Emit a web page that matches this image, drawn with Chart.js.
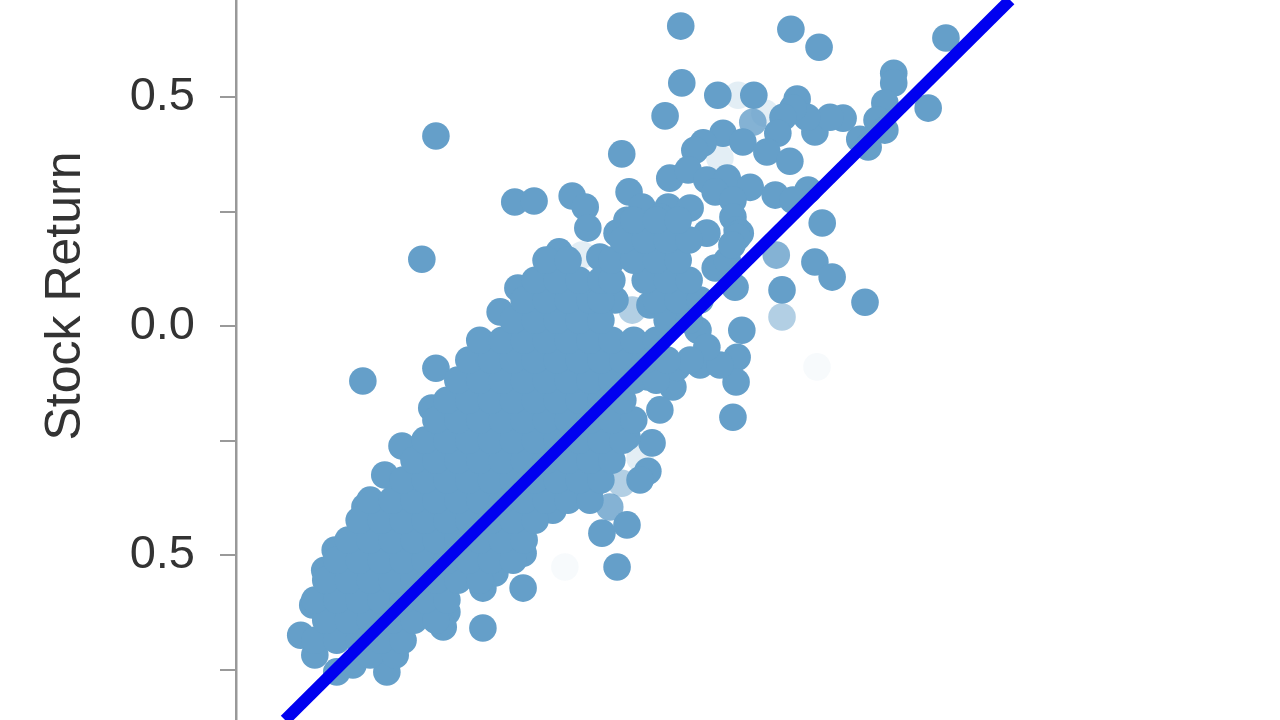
<!DOCTYPE html>
<html>
<head>
<meta charset="utf-8">
<title>Stock Return</title>
<script src="https://cdn.jsdelivr.net/npm/chart.js@4"></script>
<style>
  html, body { margin: 0; padding: 0; background: #fff; }
  canvas { display: block; }
</style>
</head>
<body>
<canvas id="returnsChart" width="1280" height="720"></canvas>
<script>
// Axis values
const yTickValues = [-0.75, -0.5, -0.25, 0, 0.25, 0.5];
const yTickLabels = ['', '0.5', '', '0.0', '', '0.5'];

// Dense part of the cloud, one stock return per row of market returns
const denseStock = [-0.686, -0.642, -0.598, -0.555, -0.511, -0.467, -0.424, -0.380, -0.336, -0.293, -0.249,
    -0.205, -0.162, -0.118, -0.074, -0.031, 0.013, 0.057, 0.100, 0.144, 0.188, 0.231];
const denseMarket = [
    [-0.649, -0.607, -0.564, -0.522, -0.480],
    [-0.628, -0.585, -0.543, -0.501, -0.459, -0.417],
    [-0.649, -0.607, -0.564, -0.522, -0.480, -0.438, -0.396],
    [-0.628, -0.585, -0.543, -0.501, -0.459, -0.417, -0.375, -0.333],
    [-0.607, -0.564, -0.522, -0.480, -0.438, -0.396, -0.354, -0.311, -0.269],
    [-0.585, -0.543, -0.501, -0.459, -0.417, -0.375, -0.333, -0.290, -0.248],
    [-0.564, -0.522, -0.480, -0.438, -0.396, -0.354, -0.311, -0.269, -0.227],
    [-0.543, -0.501, -0.459, -0.417, -0.375, -0.333, -0.290, -0.248, -0.206, -0.164, -0.122],
    [-0.480, -0.438, -0.396, -0.354, -0.311, -0.269, -0.227, -0.185, -0.143, -0.101],
    [-0.459, -0.417, -0.375, -0.333, -0.290, -0.248, -0.206, -0.164, -0.122, -0.080],
    [-0.438, -0.396, -0.354, -0.311, -0.269, -0.227, -0.185, -0.143, -0.101, -0.059],
    [-0.417, -0.375, -0.333, -0.290, -0.248, -0.206, -0.164, -0.122, -0.080, -0.038],
    [-0.396, -0.354, -0.311, -0.269, -0.227, -0.185, -0.143, -0.101, -0.059],
    [-0.375, -0.333, -0.290, -0.248, -0.206, -0.164, -0.122, -0.080, -0.038, 0.005],
    [-0.354, -0.311, -0.269, -0.227, -0.185, -0.143, -0.101, -0.059, -0.016, 0.026],
    [-0.333, -0.290, -0.248, -0.206, -0.164, -0.122, -0.080, -0.038, 0.005],
    [-0.269, -0.227, -0.185, -0.143, -0.101, 0.026, 0.068],
    [-0.248, -0.206, -0.164, -0.122, -0.101, 0.005, 0.047, 0.089],
    [-0.227, -0.185, -0.143, -0.101, -0.080, -0.016, 0.026, 0.068],
    [-0.206, -0.164, -0.080, -0.038, 0.005, 0.047],
    [-0.059, -0.016, 0.026, 0.068],
    [-0.038, 0.005, 0.047]
];

// Edge of the cloud and the points standing on their own
const edgeMarket = [0.052, 0.263, 0.317, 0.560, 0.460, 0.460, 0.526, 0.054, 0.123, 0.192, 0.275, 0.022, -0.061,
    0.443, 0.428, 0.443, 0.395, 0.411, 0.309, 0.363, 0.338, 0.294, 0.267, 0.248, 0.238, 0.133, 0.095, 0.079,
    0.171, 0.217, 0.261, 0.031, 0.066, 0.102, 0.141, 0.118, 0.185, 0.233, 0.152, 0.296, 0.267, 0.323, 0.152, 0.160,
    -0.156, -0.131, -0.126, -0.047, -0.022, 0.028, 0.070, 0.012, -0.051, -0.070, -0.013, 0.045, 0.102, 0.166,
    -0.266, -0.229, -0.444, 0.309, 0.342, 0.246, 0.156, 0.118, 0.169, 0.085, 0.160, 0.158, 0.152, 0.089, 0.127,
    0.037, -0.011, -0.417, -0.260, -0.294, -0.181, -0.204, -0.321, -0.103, -0.040, -0.001, 0.160, 0.141, 0.056,
    -0.417, -0.557, 0.405, 0.150, 0.012, -0.003, -0.051, -0.108, -0.011, -0.026,
    -0.099, -0.051, -0.070, -0.122, -0.193, -0.250, -0.250, -0.304, -0.327, -0.327, -0.396, -0.403,
    -0.511, -0.576, -0.607, -0.649, -0.676, -0.653, -0.630, -0.610, -0.553, -0.515, -0.482, -0.425, -0.361,
    -0.074, -0.007, 0.045, 0.102, 0.070, -0.543, -0.495];
const edgeStock = [0.655, 0.648, 0.609, 0.629, 0.552, 0.531, 0.476, 0.531, 0.504, 0.504, 0.496, 0.459, 0.376,
    0.487, 0.450, 0.428, 0.408, 0.391, 0.424, 0.454, 0.456, 0.456, 0.476, 0.456, 0.421, 0.421, 0.400, 0.384,
    0.402, 0.380, 0.360, 0.323, 0.341, 0.319, 0.323, 0.293, 0.303, 0.286, 0.275, 0.297, 0.275, 0.225, 0.238, 0.210,
    0.284, 0.260, 0.214, 0.293, 0.260, 0.260, 0.258, 0.238, 0.231, 0.203, 0.216, 0.225, 0.203, 0.203,
    0.271, 0.273, 0.146, 0.140, 0.107, 0.079, 0.085, 0.127, -0.009, -0.009, -0.068, -0.122, -0.199, -0.085, -0.085,
    -0.133, -0.111, -0.092, 0.083, 0.031, 0.162, 0.122, -0.041, 0.151, 0.159, 0.225, 0.194, 0.144, 0.188,
    0.415, -0.120, 0.052, 0.177, -0.183, -0.255, -0.242, -0.277, -0.317, -0.336,
    -0.452, -0.434, -0.526, -0.358, -0.402, -0.496, -0.572, -0.539, -0.572, -0.659, -0.624, -0.657,
    -0.755, -0.740, -0.755, -0.718, -0.675, -0.609, -0.533, -0.489, -0.395, -0.325, -0.262, -0.179, -0.124,
    0.057, 0.046, -0.090, -0.046, -0.074, -0.718, -0.718];

// Points that show up lighter in the picture
const lightMarket = [0.190, 0.235, -0.084];
const lightStock = [0.445, 0.155, -0.395];
const halfMarket = [0.246, -0.041, -0.061];
const halfStock = [0.020, 0.035, -0.343];
const paleMarket = [0.162, 0.127, 0.213, -0.137, -0.026];
const paleStock = [0.504, 0.367, 0.465, 0.155, -0.288];
const faintMarket = [-0.170, 0.313];
const faintStock = [-0.526, -0.089];

// Fitted line, from the bottom edge of the plot to the top edge
const fitMarket = [-0.706, 0.683];
const fitStock = [-0.860, 0.712];

function toPoints(xs, ys) {
    return xs.map((x, i) => ({ x: x, y: ys[i] }));
}

const densePoints = denseMarket.flatMap((row, i) => row.map(x => ({ x: x, y: denseStock[i] })));

function dots(label, data, color, order) {
    return { label: label, data: data, backgroundColor: color, pointRadius: 13.8, borderWidth: 0, order: order };
}

// Draws the axis name; a scale title can only sit centred on the scale
const axisName = {
    id: 'axisName',
    afterDraw(chart) {
        const ctx = chart.ctx;
        ctx.save();
        ctx.translate(80, 296);
        ctx.rotate(-Math.PI / 2);
        ctx.font = '50px "Liberation Sans"';
        ctx.fillStyle = '#333333';
        ctx.textAlign = 'center';
        ctx.textBaseline = 'alphabetic';
        ctx.fillText('Stock Return', 0, 0);
        ctx.restore();
    }
};

const pointColor = '#659fc9';

new Chart(document.getElementById('returnsChart').getContext('2d'), {
    type: 'scatter',
    data: {
        datasets: [
            { label: 'Fit', type: 'line', data: toPoints(fitMarket, fitStock), borderColor: '#0000f0', borderWidth: 12, pointRadius: 0, order: 0 },
            dots('Dense', densePoints, pointColor, 1),
            dots('Edge', toPoints(edgeMarket, edgeStock), pointColor, 2),
            dots('Light', toPoints(lightMarket, lightStock), 'rgba(101,159,201,0.8)', 3),
            dots('Half', toPoints(halfMarket, halfStock), 'rgba(101,159,201,0.5)', 4),
            dots('Pale', toPoints(paleMarket, paleStock), 'rgba(101,159,201,0.18)', 5),
            dots('Faint', toPoints(faintMarket, faintStock), 'rgba(101,159,201,0.05)', 6)
        ]
    },
    options: {
        responsive: false,
        animation: false,
        layout: { padding: 0, autoPadding: false },
        plugins: { legend: { display: false }, tooltip: { enabled: false } },
        scales: {
            x: { type: 'linear', display: false, min: -0.8, max: 1.2 },
            y: {
                type: 'linear',
                min: -0.86,
                max: 0.712,
                afterBuildTicks: scale => { scale.ticks = yTickValues.map(v => ({ value: v })); },
                afterFit: scale => {
                    scale.width = 236;
                    scale.paddingTop = 0;
                    scale.paddingBottom = 0;
                    scale.paddingLeft = 0;
                    scale.paddingRight = 0;
                },
                border: { color: '#999999', width: 2.5 },
                grid: { drawOnChartArea: false, drawTicks: true, tickLength: 16, color: '#999999', lineWidth: 2 },
                ticks: {
                    autoSkip: false,
                    maxRotation: 0,
                    padding: 25,
                    color: '#333333',
                    font: { family: '"Liberation Sans"', size: 47 },
                    callback: (value, index) => yTickLabels[index]
                }
            }
        }
    },
    plugins: [axisName]
});
</script>
</body>
</html>
